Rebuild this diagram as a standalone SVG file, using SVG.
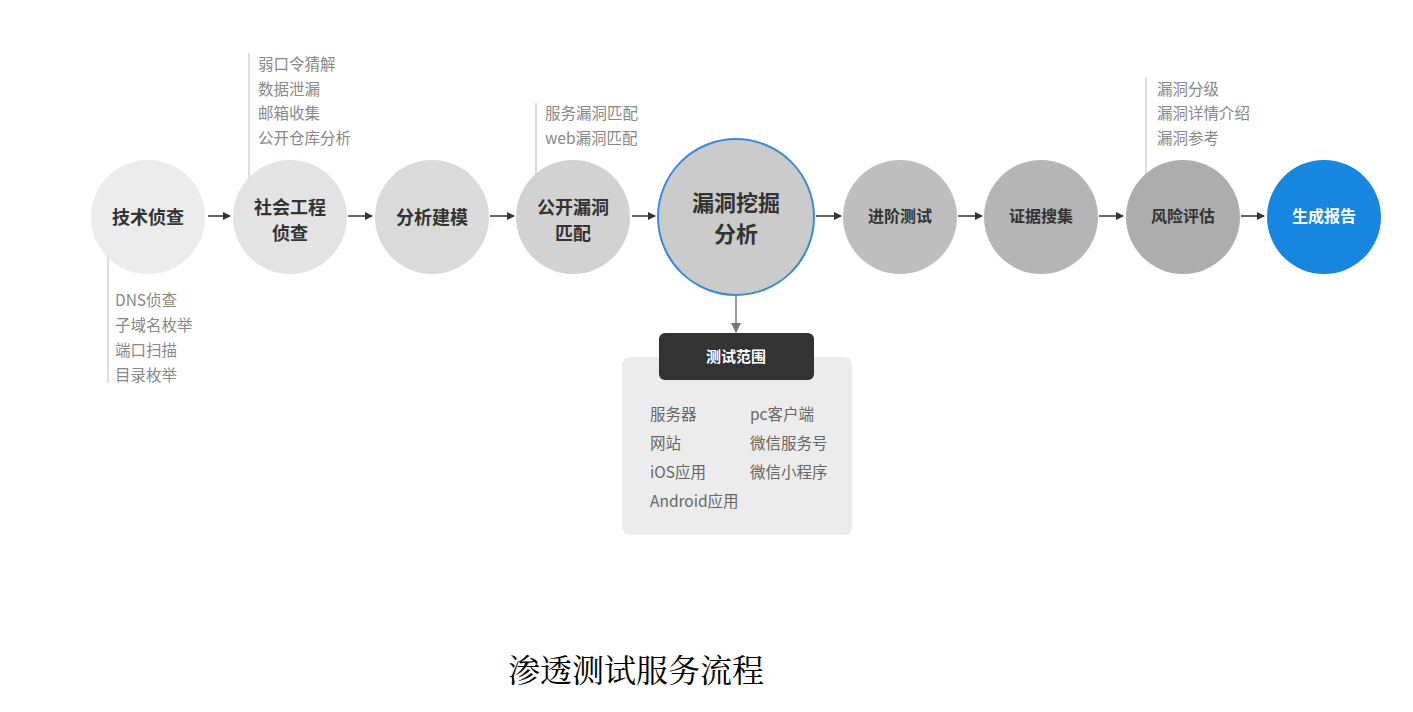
<svg xmlns="http://www.w3.org/2000/svg" width="1413" height="712" viewBox="0 0 1413 712">
<defs>
<marker id="ah" markerWidth="8" markerHeight="8" refX="7" refY="4" orient="auto" markerUnits="userSpaceOnUse"><path d="M0,0 L8,4 L0,8 Z" fill="#333"/></marker>
<marker id="ahg" markerWidth="10" markerHeight="10" refX="9" refY="5" orient="auto" markerUnits="userSpaceOnUse"><path d="M0,0 L10,5 L0,10 Z" fill="#777"/></marker>
<style>
.n{font-family:"Noto Sans CJK SC","Noto Sans",sans-serif;font-weight:bold;font-size:18px;fill:#333;text-anchor:middle}
.s{font-family:"Noto Sans CJK SC","Noto Sans",sans-serif;font-size:15.5px;fill:#888}
.p{font-family:"Noto Sans CJK SC","Noto Sans",sans-serif;font-size:15.5px;fill:#666}
.v{stroke:#bbb;stroke-width:1}
.c{stroke:#333;stroke-width:1.5;fill:none;marker-end:url(#ah)}
</style>
</defs>
<rect width="1413" height="712" fill="#fff"/>
<g id="notes">
<line class="v" x1="108" y1="255" x2="108" y2="383"/>
<text class="s" x="115" y="306">DNS侦查</text><text class="s" x="115" y="331">子域名枚举</text><text class="s" x="115" y="356">端口扫描</text><text class="s" x="115" y="381">目录枚举</text>
<line class="v" x1="249" y1="53" x2="249" y2="183"/>
<text class="s" x="258" y="70">弱口令猜解</text><text class="s" x="258" y="95">数据泄漏</text><text class="s" x="258" y="119">邮箱收集</text><text class="s" x="258" y="144">公开仓库分析</text>
<line class="v" x1="536" y1="103" x2="536" y2="183"/>
<text class="s" x="545" y="119">服务漏洞匹配</text><text class="s" x="545" y="144">web漏洞匹配</text>
<line class="v" x1="1146" y1="78" x2="1146" y2="183"/>
<text class="s" x="1157" y="95">漏洞分级</text><text class="s" x="1157" y="119">漏洞详情介绍</text><text class="s" x="1157" y="144">漏洞参考</text>
</g>
<g id="connectors">
<line class="c" x1="208" y1="216" x2="230" y2="216"/>
<line class="c" x1="348" y1="216" x2="372" y2="216"/>
<line class="c" x1="490" y1="216" x2="514" y2="216"/>
<line class="c" x1="632" y1="216" x2="655" y2="216"/>
<line class="c" x1="816" y1="216" x2="841" y2="216"/>
<line class="c" x1="958" y1="216" x2="982" y2="216"/>
<line class="c" x1="1099" y1="216" x2="1123" y2="216"/>
<line class="c" x1="1241" y1="216" x2="1264" y2="216"/>
<line x1="736" y1="296" x2="736" y2="332" stroke="#777" stroke-width="1.5" marker-end="url(#ahg)"/>
</g>
<g id="n1"><circle cx="148" cy="217" r="57" fill="#ececec"/><text class="n" x="148" y="224">技术侦查</text></g>
<g id="n2"><circle cx="290" cy="217" r="57" fill="#e3e3e3"/><text class="n" x="290" y="214">社会工程</text><text class="n" x="290" y="240">侦查</text></g>
<g id="n3"><circle cx="432" cy="217" r="57" fill="#dadada"/><text class="n" x="432" y="224">分析建模</text></g>
<g id="n4"><circle cx="573" cy="217" r="57" fill="#d2d2d2"/><text class="n" x="573" y="214">公开漏洞</text><text class="n" x="573" y="240">匹配</text></g>
<g id="n5"><circle cx="736" cy="217" r="78" fill="#cbcbcb" stroke="#3a8ad8" stroke-width="2"/><text class="n" x="736" y="211" style="font-size:22px">漏洞挖掘</text><text class="n" x="736" y="242" style="font-size:22px">分析</text></g>
<g id="n6"><circle cx="900" cy="217" r="57" fill="#bebebe"/><text class="n" x="900" y="222" style="font-size:16px">进阶测试</text></g>
<g id="n7"><circle cx="1041" cy="217" r="57" fill="#b5b5b5"/><text class="n" x="1041" y="222" style="font-size:16px">证据搜集</text></g>
<g id="n8"><circle cx="1183" cy="217" r="57" fill="#adadad"/><text class="n" x="1183" y="222" style="font-size:16px">风险评估</text></g>
<g id="n9"><circle cx="1324" cy="217" r="57" fill="#1786e0"/><text class="n" x="1324" y="222" style="font-size:16px;fill:#fff">生成报告</text></g>
<g id="scope">
<rect x="622" y="357" width="230" height="178" rx="8" fill="#ececec"/>
<rect x="659" y="333" width="155" height="47" rx="6" fill="#333"/>
<text class="n" x="736" y="362" style="font-size:15px;fill:#fff">测试范围</text>
<text class="p" x="650" y="420">服务器</text><text class="p" x="650" y="449">网站</text><text class="p" x="650" y="478">iOS应用</text><text class="p" x="650" y="507">Android应用</text>
<text class="p" x="750" y="420">pc客户端</text><text class="p" x="750" y="449">微信服务号</text><text class="p" x="750" y="478">微信小程序</text>
</g>
<text x="508" y="682" style="font-family:'Noto Serif CJK SC','Noto Sans CJK SC',serif;font-size:32px;fill:#000">渗透测试服务流程</text>
</svg>
